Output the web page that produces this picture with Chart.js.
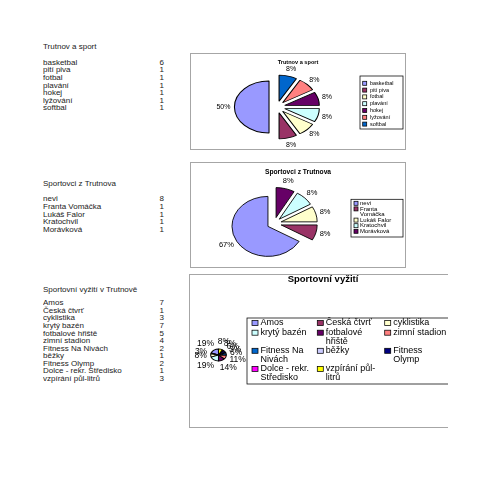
<!DOCTYPE html>
<html>
<head>
<meta charset="utf-8">
<script src="https://cdn.jsdelivr.net/npm/chart.js@4.4.1/dist/chart.umd.min.js"></script>
<style>
body { margin: 0; width: 495px; height: 495px; background: #fff; position: relative; overflow: hidden; font-family: "Liberation Sans", Arial, sans-serif; color: #222; }
.cell { position: absolute; height: 10px; line-height: 10px; font-size: 8px; white-space: nowrap; }
.title, .name { left: 43px; }
.name { width: 80px; overflow: hidden; }
.val { left: 144px; width: 20px; text-align: right; }
canvas { position: absolute; }
</style>
</head>
<body>
<canvas id="sportChart" width="216" height="97" style="left:190px;top:53px"></canvas>
<canvas id="athleteChart" width="216" height="106" style="left:190px;top:162px"></canvas>
<canvas id="placeChart" width="259" height="154" style="left:189px;top:274px"></canvas>
<script>
const sportLabels = ["basketbal", "pití piva", "fotbal", "plavání", "hokej", "lyžování", "softbal"];
const sportValues = [6, 1, 1, 1, 1, 1, 1];

const athleteLabels = ["nevi", "Franta Vomáčka", "Lukáš Falor", "Kratochvil", "Morávková"];
const athleteValues = [8, 1, 1, 1, 1];

const placeLabels = ["Amos", "Česká čtvrť", "cyklistika", "krytý bazén", "fotbalové hřiště", "zimní stadion",
  "Fitness Na Nivách", "běžky", "Fitness Olymp", "Dolce - rekr. Středisko", "vzpírání půl-litrů"];
const placeValues = [7, 1, 3, 7, 5, 4, 2, 1, 2, 1, 3];

// old Excel pie palette
const excelColors = ["#9999FF", "#993366", "#FFFFCC", "#CCFFFF", "#660066", "#FF8080",
  "#0066CC", "#CCCCFF", "#000080", "#FF00FF", "#FFFF00"];

const FONT = '"Liberation Sans", Arial, sans-serif';

/* LEFT SHEET TABLES */

function addTable(title, labels, values, titleY, firstY, step){
  const make = (text, cls, y) => {
    const d = document.createElement("div");
    d.className = "cell " + cls;
    d.textContent = text;
    d.style.top = (y - 5) + "px";
    document.body.appendChild(d);
  };
  make(title, "title", titleY);
  labels.forEach((l, i) => {
    make(l, "name", firstY + i * step);
    make(values[i], "val", firstY + i * step);
  });
}

addTable("Trutnov a sport", sportLabels, sportValues, 46.7, 62.7, 7.6);
addTable("Sportovci z Trutnova", athleteLabels, athleteValues, 184.3, 199, 7.75);
addTable("Sportovní vyžití v Trutnově", placeLabels, placeValues, 290, 303.3, 7.57);

/* PLUGINS */

// stretched, exploded pie; negative stretch mirrors it so slices run counterclockwise
const pieShape = {
  id: "pieShape",
  afterUpdate(chart, args, o){
    chart.getDatasetMeta(0).data.forEach(arc => {
      if (arc.exploded) return;
      const draw = arc.draw;
      arc.draw = function(ctx, ...rest){
        const a = (this.startAngle + this.endAngle) / 2;
        ctx.save();
        ctx.translate(Math.cos(a) * o.explode, Math.sin(a) * o.explode);
        draw.call(this, ctx, ...rest);
        ctx.restore();
      };
      arc.exploded = true;
    });
  },
  beforeDatasetsDraw(chart, args, o){
    const arc = chart.getDatasetMeta(0).data[0];
    const ctx = chart.ctx;
    ctx.save();
    ctx.translate(arc.x, arc.y);
    ctx.scale(o.stretch, 1);
    ctx.translate(-arc.x, -arc.y);
  },
  afterDatasetsDraw(chart){
    chart.ctx.restore();
  }
};

// percent labels outside the slices
const pieLabels = {
  id: "pieLabels",
  afterDraw(chart, args, o){
    const ctx = chart.ctx;
    const shape = chart.options.plugins.pieShape;
    const values = chart.data.datasets[0].data;
    const total = values.reduce((s, v) => s + v, 0);
    ctx.save();
    ctx.font = o.size + "px " + FONT;
    ctx.fillStyle = "#000";
    ctx.textAlign = "center";
    ctx.textBaseline = "middle";
    chart.getDatasetMeta(0).data.forEach((arc, i) => {
      const a = (arc.startAngle + arc.endAngle) / 2;
      const dx = Math.cos(a) * shape.stretch, dy = Math.sin(a);
      const len = Math.hypot(dx, dy);
      const R = arc.outerRadius + shape.explode;
      const text = Math.round(values[i] / total * 100) + "%";
      const w = ctx.measureText(text).width;
      ctx.fillText(text,
        arc.x + dx * R + dx / len * (4 + w / 2),
        arc.y + dy * R + dy / len * (4 + o.size / 2));
    });
    ctx.restore();
  }
};

function wrapLabel(ctx, text, maxWidth){
  const tokens = text.split(/(?<= )|(?<=\S-)(?=\S)/);
  const lines = [];
  let line = "";
  tokens.forEach(t => {
    if (line && ctx.measureText((line + t).trim()).width > maxWidth) {
      lines.push(line.trim());
      line = t;
    } else {
      line += t;
    }
  });
  lines.push(line.trim());
  return lines;
}

// chart frame, title and boxed legend like the Excel object
const excelFrame = {
  id: "excelFrame",
  afterDraw(chart, args, o){
    const ctx = chart.ctx;
    const L = o.legend;
    ctx.save();
    ctx.strokeStyle = "#a6a6a6";
    ctx.lineWidth = 1;
    ctx.strokeRect(0.5, 0.5, chart.width - 1 + (o.openRight ? 20 : 0), chart.height - 1);

    ctx.fillStyle = "#000";
    ctx.font = "bold " + o.titleSize + "px " + FONT;
    ctx.textAlign = "center";
    ctx.textBaseline = "middle";
    ctx.fillText(o.title, o.titleX, o.titleY);

    ctx.strokeStyle = "#000";
    ctx.lineWidth = 0.75;
    ctx.strokeRect(L.left, L.top, L.right - L.left, L.bottom - L.top);

    ctx.font = L.size + "px " + FONT;
    ctx.textAlign = "left";
    const labels = chart.data.labels;
    const colors = chart.data.datasets[0].backgroundColor;
    let y = L.firstY;
    for (let i = 0; i < labels.length; i += L.cols.length) {
      let rowLines = 1;
      L.cols.forEach((x, c) => {
        const k = i + c;
        if (k >= labels.length) return;
        ctx.fillStyle = colors[k];
        ctx.fillRect(x, y - L.boxH / 2, L.boxW, L.boxH);
        ctx.strokeRect(x, y - L.boxH / 2, L.boxW, L.boxH);
        ctx.fillStyle = "#000";
        const lines = wrapLabel(ctx, labels[k], L.wrap);
        lines.forEach((t, j) => ctx.fillText(t, x + L.textGap, y + j * L.lineH));
        rowLines = Math.max(rowLines, lines.length);
      });
      y += rowLines * L.lineH + L.rowGap;
    }
    ctx.restore();
  }
};

Chart.register(pieShape, pieLabels, excelFrame);

// padding that puts the pie centre at (cx, cy)
function centerPad(cx, cy, w, h){
  return {
    left: Math.max(2 * cx - w, 0), right: Math.max(w - 2 * cx, 0),
    top: Math.max(2 * cy - h, 0), bottom: Math.max(h - 2 * cy, 0)
  };
}

function makePie(id, labels, values, radius, center, shape, labelSize, frame){
  const canvas = document.getElementById(id);
  return new Chart(canvas, {
    type: "pie",
    data: {
      labels: labels,
      datasets: [{
        data: values,
        backgroundColor: excelColors.slice(0, values.length),
        borderColor: "#000",
        borderWidth: 0.8,
        radius: radius
      }]
    },
    options: {
      responsive: false,
      animation: false,
      events: [],
      layout: { padding: centerPad(center[0], center[1], canvas.width, canvas.height) },
      plugins: {
        legend: { display: false },
        tooltip: { enabled: false },
        pieShape: shape,
        pieLabels: { size: labelSize },
        excelFrame: frame
      }
    }
  });
}

/* CHARTS */

makePie("sportChart", sportLabels, sportValues, 26, [87, 54],
  { stretch: -1.33, explode: 6 }, 7,
  {
    title: "Trutnov a sport", titleSize: 5.6, titleX: 108, titleY: 9,
    legend: { left: 170, top: 23, right: 213, bottom: 76, firstY: 30.3, cols: [172.7],
      boxW: 4, boxH: 4, textGap: 7.3, size: 5.5, lineH: 6.8, rowGap: 0, wrap: 60 }
  });

makePie("athleteChart", athleteLabels, athleteValues, 30, [84.2, 61.4],
  { stretch: -1.2, explode: 6 }, 7.5,
  {
    title: "Sportovci z Trutnova", titleSize: 6.7, titleX: 108, titleY: 9.7,
    legend: { left: 161, top: 37.3, right: 213, bottom: 75, firstY: 41.3, cols: [164],
      boxW: 4, boxH: 4, textGap: 6, size: 6, lineH: 5.6, rowGap: 0, wrap: 40 }
  });

makePie("placeChart", placeLabels, placeValues, 6, [29.5, 81],
  { stretch: -1.3, explode: 0 }, 8.5,
  {
    title: "Sportovní vyžití", titleSize: 9.5, titleX: 134, titleY: 5.5, openRight: true,
    legend: { left: 58, top: 44, right: 280, bottom: 110, firstY: 49, cols: [63, 128.3, 195.7],
      boxW: 6, boxH: 5, textGap: 8.5, size: 9, lineH: 8.4, rowGap: 1.3, wrap: 56 }
  });
</script>
</body>
</html>
